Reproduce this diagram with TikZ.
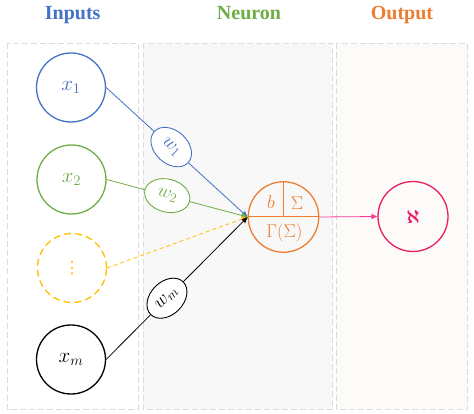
\RequirePackage{fix-cm}
\documentclass[tikz,border=0pt]{standalone}
\usepackage{amsmath}
\usepackage{fontspec}
\newfontfamily\titlefont{Liberation Serif}
\newfontfamily\dotsfont{DejaVu Sans}
\usetikzlibrary{shapes.geometric,arrows.meta}
\definecolor{cblue}{HTML}{4472C4}
\definecolor{cgreen}{HTML}{70AD47}
\definecolor{cyellow}{HTML}{FFC000}
\definecolor{corange}{HTML}{ED7D31}
\definecolor{cpink}{RGB}{232,30,96}
\definecolor{cpinkline}{RGB}{250,60,150}
\definecolor{panelgray}{HTML}{DCDCDC}
\definecolor{neurbg}{HTML}{F8F8F8}
\definecolor{outbg}{HTML}{FDFAFA}
\begin{document}
\begin{tikzpicture}[x=1pt,y=-1pt,
  panel/.style={draw=panelgray, dash pattern=on 6pt off 3pt, line width=0.9pt},
  inp/.style={circle, draw, line width=1.3pt, minimum size=69pt, inner sep=0pt, font=\fontsize{21}{24}\selectfont},
  wlab/.style={ellipse, draw, fill=white, line width=0.9pt, minimum width=46pt, minimum height=33pt, inner sep=0pt, sloped, font=\fontsize{19}{22}\selectfont},
  conn/.style={line width=0.8pt, -{Triangle[length=6pt,width=5pt]}},
  title/.style={font=\titlefont\fontsize{20}{24}\selectfont\bfseries, anchor=base},
  ntext/.style={text=corange, font=\fontsize{18.5}{20}\selectfont, inner sep=0pt}]
\useasboundingbox (0,0) rectangle (474,414);
\fill[white] (0,0) rectangle (474,414);
% panels
\draw[panel, fill=white] (7.5,43.5) rectangle (138,409);
\draw[panel, fill=neurbg] (143,43.5) rectangle (332,409);
\draw[panel, fill=outbg] (336,43.5) rectangle (467,409);
% titles
\node[title, text=cblue] (tin) at (72.7,19.5) {Inputs};
\node[title, text=cgreen] (tneu) at (249,19.5) {Neuron};
\node[title, text=corange] (tout) at (402,19.5) {Output};
% inputs
\node[inp, draw=cblue, text=cblue] (x1) at (71,87.5) {$x_1$};
\node[inp, draw=cgreen, text=cgreen] (x2) at (71.5,179.5) {$x_2$};
\node[inp, draw=cyellow, text=cyellow, dash pattern=on 7pt off 4pt, font=\dotsfont\fontsize{17}{20}\selectfont] (xd) at (72,268) {⋮};
\node[inp, draw=black] (xm) at (71,359.5) {$x_m$};
% neuron
\node[circle, draw=corange, line width=1.3pt, minimum size=70.5pt, inner sep=0pt] (n) at (283.5,217) {};
\draw[corange, line width=1pt] (n.west) -- (n.east);
\draw[corange, line width=1pt] (n.north) -- (n.center);
\node[ntext] (nb) at (271,202) {$b$};
\node[ntext] (ns) at (297,203) {$\Sigma$};
\node[ntext] (ng) at (284.5,232.5) {$\Gamma(\Sigma)$};
% output
\node[circle, draw=cpink, line width=1.3pt, minimum size=70pt, inner sep=0pt, text=cpink, font=\fontsize{19}{22}\selectfont] (o) at (413,216.5) {$\boldsymbol{\aleph}$};
% connectors
\draw[conn, cblue] (x1.east) -- node[wlab, pos=0.46, draw=cblue, text=cblue] (w1) {$w_1$} (n.west);
\draw[conn, cgreen] (x2.east) -- node[wlab, pos=0.43, draw=cgreen, text=cgreen] (w2) {$w_2$} (n.west);
\draw[conn, cyellow, dash pattern=on 4pt off 3pt] (xd.east) -- (n.west);
\draw[conn, black] (xm.east) -- node[wlab, pos=0.43, draw=black, text=black] (wm) {$w_m$} (n.west);
\draw[conn, cpinkline] (n.east) -- (o.west);
\end{tikzpicture}
\end{document}
